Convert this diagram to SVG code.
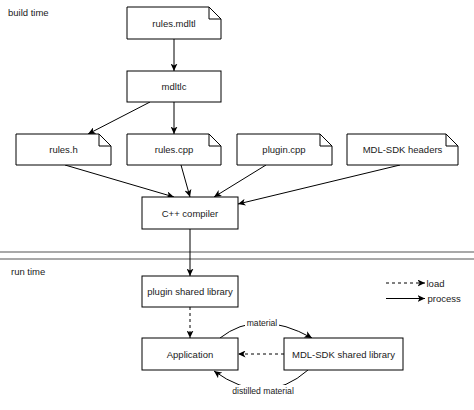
<svg xmlns="http://www.w3.org/2000/svg" width="474" height="410" viewBox="0 0 474 410">
<style>
.box{fill:#fff;stroke:#000;stroke-width:1}
.t{font-family:"Liberation Sans",Arial,sans-serif;font-size:9.5px;fill:#1a1a1a;text-anchor:middle;dominant-baseline:central}
.tl{font-family:"Liberation Sans",Arial,sans-serif;font-size:9.5px;fill:#1a1a1a;text-anchor:start;dominant-baseline:central}
.lbl{font-family:"Liberation Sans",Arial,sans-serif;font-size:8.6px;fill:#1a1a1a;text-anchor:middle;dominant-baseline:central}
.e{fill:none;stroke:#000;stroke-width:1}
.d{fill:none;stroke:#000;stroke-width:1;stroke-dasharray:3 3}
.sep{stroke:#555;stroke-width:1.2}
</style>
<defs>
<marker id="ah" markerUnits="userSpaceOnUse" markerWidth="8" markerHeight="7" refX="7.5" refY="3.5" orient="auto">
<path d="M0,0 L7.5,3.5 L0,7 L2,3.5 Z" fill="#000"/>
</marker>
</defs>
<text class="tl" x="8" y="12">build time</text>
<text class="tl" x="11" y="271">run time</text>
<g id="separator">
<line class="sep" x1="0" y1="252" x2="474" y2="252"/>
<line class="sep" x1="0" y1="259" x2="474" y2="259"/>
</g>
<g id="connectors">
<line class="e" x1="174" y1="39" x2="174" y2="71" marker-end="url(#ah)"/>
<line class="e" x1="150" y1="102" x2="88" y2="134" marker-end="url(#ah)"/>
<line class="e" x1="174" y1="102" x2="174" y2="134" marker-end="url(#ah)"/>
<line class="e" x1="65" y1="165" x2="174" y2="197" marker-end="url(#ah)"/>
<line class="e" x1="181" y1="165" x2="190" y2="197" marker-end="url(#ah)"/>
<line class="e" x1="266" y1="165" x2="214" y2="197" marker-end="url(#ah)"/>
<line class="e" x1="400" y1="165" x2="238" y2="204" marker-end="url(#ah)"/>
<line class="e" x1="190" y1="229" x2="190" y2="276" marker-end="url(#ah)"/>
<line class="d" x1="190" y1="307" x2="190" y2="338" marker-end="url(#ah)"/>
<line class="d" x1="284" y1="354" x2="238" y2="354" marker-end="url(#ah)"/>
<path class="e" d="M220,338 Q258,308 312,338" marker-end="url(#ah)"/>
<path class="e" d="M308,370 Q265,408 214,371" marker-end="url(#ah)"/>
<rect x="245" y="317" width="34" height="12" fill="#fff"/>
<text class="lbl" x="262" y="323">material</text>
<rect x="231" y="385" width="64" height="12" fill="#fff"/>
<text class="lbl" x="263" y="391">distilled material</text>
</g>
<g id="rules-mdltl">
<path class="box" d="M127,7 H209 L221,19 V39 H127 Z"/>
<path class="e" d="M209,7 V19 H221"/>
<text class="t" x="174" y="23">rules.mdltl</text>
</g>
<g id="mdltlc">
<rect class="box" x="127" y="71" width="94" height="31"/>
<text class="t" x="174" y="86.5">mdltlc</text>
</g>
<g id="rules-h">
<path class="box" d="M16,134 H99 L111,146 V165 H16 Z"/>
<path class="e" d="M99,134 V146 H111"/>
<text class="t" x="63.5" y="149.5">rules.h</text>
</g>
<g id="rules-cpp">
<path class="box" d="M127,134 H209 L221,146 V165 H127 Z"/>
<path class="e" d="M209,134 V146 H221"/>
<text class="t" x="174" y="149.5">rules.cpp</text>
</g>
<g id="plugin-cpp">
<path class="box" d="M237,134 H320 L332,146 V165 H237 Z"/>
<path class="e" d="M320,134 V146 H332"/>
<text class="t" x="284" y="149.5">plugin.cpp</text>
</g>
<g id="mdl-sdk-headers">
<path class="box" d="M347,134 H446 L458,146 V165 H347 Z"/>
<path class="e" d="M446,134 V146 H458"/>
<text class="t" x="402.5" y="149.5">MDL-SDK headers</text>
</g>
<g id="cpp-compiler">
<rect class="box" x="142" y="197" width="96" height="32"/>
<text class="t" x="190" y="213">C++ compiler</text>
</g>
<g id="plugin-shared-library">
<rect class="box" x="142" y="276" width="96" height="31"/>
<text class="t" x="190" y="291.5">plugin shared library</text>
</g>
<g id="application">
<rect class="box" x="142" y="338" width="96" height="32"/>
<text class="t" x="190" y="354">Application</text>
</g>
<g id="mdl-sdk-shared-library">
<rect class="box" x="284" y="338" width="119" height="32"/>
<text class="t" x="343.5" y="354">MDL-SDK shared library</text>
</g>
<g id="legend">
<line class="d" x1="386" y1="283" x2="425" y2="283" marker-end="url(#ah)"/>
<text class="tl" x="426.5" y="283">load</text>
<line class="e" x1="386" y1="298.5" x2="425" y2="298.5" marker-end="url(#ah)"/>
<text class="tl" x="427.5" y="298.5">process</text>
</g>
</svg>
